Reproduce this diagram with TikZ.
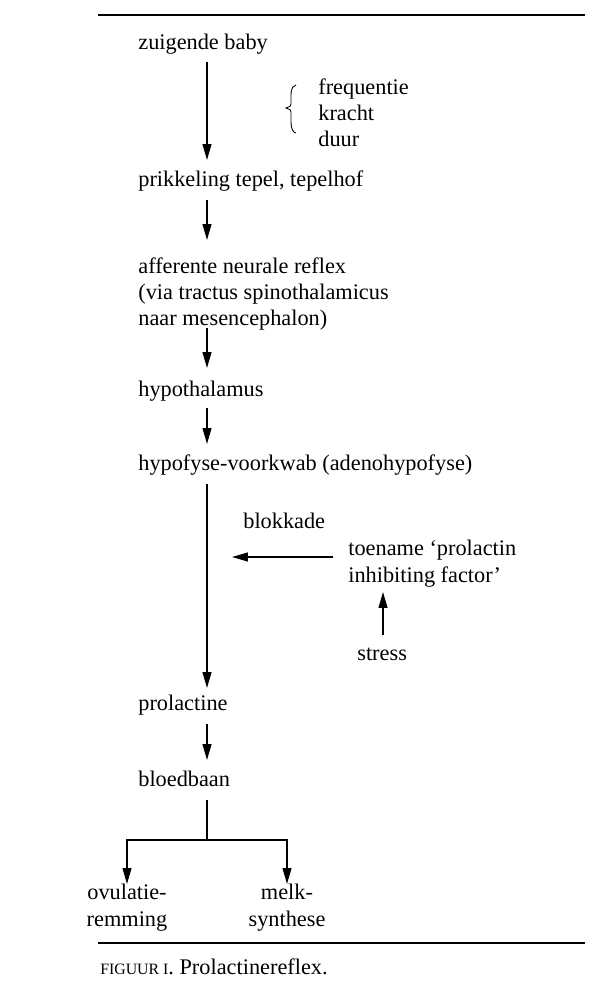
\documentclass[tikz,border=0pt]{standalone}
\usepackage{fontspec}
\setmainfont{Liberation Serif}
\usetikzlibrary{arrows.meta}
\begin{document}
\begin{tikzpicture}[x=0.02cm, y=-0.02cm,
    txt/.style={anchor=base west, inner sep=0pt, font=\fontsize{12.7}{15}\selectfont, align=left},
    ctr/.style={anchor=base, inner sep=0pt, font=\fontsize{12.7}{15}\selectfont, align=center},
    arr/.style={-{Triangle[width=5pt,length=9pt]}, line width=0.9pt}]
    \useasboundingbox (0,0) rectangle (600,989);
    % rules
    \draw[line width=0.8pt] (98,15) -- (585,15);
    \draw[line width=0.8pt] (98,943) -- (585,943);
    \node[anchor=base west, inner sep=0pt, font=\fontsize{12.7}{14}\selectfont] (cap) at (100,974) {{\fontsize{9}{10}\selectfont FIGUUR I}. Prolactinereflex.};
    % main chain
    \node[txt] (baby) at (138,50) {zuigende baby};
    \node[txt] (tepel) at (138,187) {prikkeling tepel, tepelhof};
    \node[txt, anchor=north west] (aff) at (138,257) {afferente neurale reflex\\(via tractus spinothalamicus\\naar mesencephalon)};
    \node[txt] (hyp) at (138,396) {hypothalamus};
    \node[txt] (hpf) at (138,470) {hypofyse-voorkwab (adenohypofyse)};
    \node[txt] (prl) at (138,710) {prolactine};
    \node[txt] (blo) at (138,786) {bloedbaan};
    \node[ctr, anchor=north] (ovu) at (127,884) {ovulatie-\\remming};
    \node[ctr, anchor=north] (mel) at (287,884) {melk-\\synthese};
    % side notes
    \node[txt, anchor=north west] (frq) at (318,78) {frequentie\\kracht\\duur};
    \draw[line width=0.5pt] (296,85) .. controls (290,86) and (291,96) .. (291,104)
        .. controls (291,106) .. (286,108) .. controls (291,110) .. (291,112)
        .. controls (291,120) and (290,132) .. (296,133);
    \node[txt] (blk) at (243,528) {blokkade};
    \node[txt, anchor=north west] (pif) at (348,540) {toename `prolactin\\inhibiting factor'};
    \node[txt] (str) at (357,660) {stress};
    % connectors
    \coordinate (a1) at (207,62);  \coordinate (b1) at (207,160);
    \coordinate (a2) at (207,200); \coordinate (b2) at (207,240);
    \coordinate (a3) at (207,328); \coordinate (b3) at (207,368);
    \coordinate (a4) at (207,408); \coordinate (b4) at (207,444);
    \coordinate (a5) at (207,484); \coordinate (b5) at (207,688);
    \coordinate (a6) at (207,724); \coordinate (b6) at (207,760);
    \coordinate (split) at (207,840);
    \draw[arr] (a1) -- (b1);
    \draw[arr] (a2) -- (b2);
    \draw[arr] (a3) -- (b3);
    \draw[arr] (a4) -- (b4);
    \draw[arr] (a5) -- (b5);
    \draw[arr] (a6) -- (b6);
    \draw[line width=0.9pt] (207,800) -- (split);
    \draw[arr] (split) -| (ovu.north);
    \draw[arr] (split) -| (mel.north);
    \draw[arr] (pif.west |- 0,557) ++(-15,0) coordinate (c1) -- (232,557) coordinate (d1);
    \draw[arr] (str.north -| 383,0) ++(0,-12) coordinate (c2) -- (383,592) coordinate (d2);
\end{tikzpicture}
\end{document}
